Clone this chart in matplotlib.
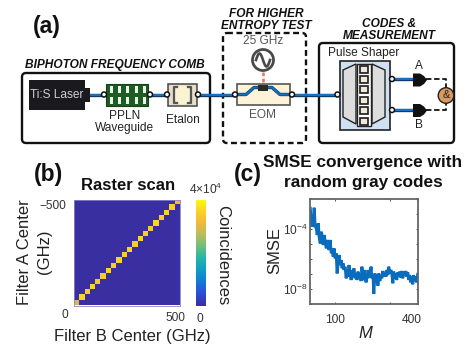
import numpy as np
import matplotlib
matplotlib.use("Agg")
import matplotlib.pyplot as plt
from matplotlib.colors import LinearSegmentedColormap
from matplotlib.patches import Rectangle, FancyBboxPatch, Circle, Ellipse, Polygon
from matplotlib.transforms import ScaledTranslation

plt.rcParams['font.family'] = ['Liberation Sans', 'DejaVu Sans']
plt.rcParams['mathtext.fontset'] = 'custom'
plt.rcParams['mathtext.rm'] = 'Liberation Sans'
plt.rcParams['mathtext.it'] = 'Liberation Sans:italic'

#---------------------- DATA ----------------------

# panel b, coincidences along the diagonal of the raster scan
diagonal_counts = [2.9e4, 3.6e4, 3.5e4, 3.6e4, 3.4e4, 3.5e4, 3.6e4, 3.5e4, 3.6e4, 3.5e4,
                   3.6e4, 3.5e4, 3.6e4, 3.5e4, 3.4e4, 3.6e4, 3.5e4, 3.6e4, 3.5e4, 3.1e4]
background_counts = 300
count_max = 4e4

# panel c, M and log10(SMSE)
m_values = [10, 14, 17, 21, 24, 28, 32, 35, 39, 42, 46, 50, 53, 57, 60, 64, 68, 71, 75, 78,
            82, 86, 89, 93, 96, 100, 104, 107, 111, 114, 118, 122, 125, 129, 132, 136, 140,
            143, 147, 150, 154, 158, 161, 165, 168, 172, 176, 179, 183, 186, 190, 194, 197,
            201, 204, 208, 212, 215, 219, 222, 226, 230, 233, 237, 240, 244, 248, 251, 255,
            258, 262, 266, 269, 273, 276, 280, 284, 287, 291, 294, 298, 302, 305, 309, 312,
            316, 320, 323, 327, 330, 334, 338, 341, 345, 348, 352, 356, 359, 363, 366, 370,
            374, 377, 381, 384, 388, 392, 395, 399]
smse_log10 = [-2.62, -3.51, -3.84, -3.62, -2.58, -3.84, -3.96, -4.40, -3.62, -4.51, -4.96,
              -4.18, -4.51, -5.07, -4.40, -4.84, -5.29, -4.73, -5.18, -5.40, -4.73, -5.62,
              -5.29, -5.84, -5.29, -5.96, -5.62, -6.96, -6.29, -5.73, -6.40, -6.07, -6.62,
              -6.29, -6.73, -6.51, -7.29, -6.73, -7.18, -6.40, -6.96, -7.40, -6.73, -7.18,
              -6.62, -7.29, -6.96, -7.40, -6.84, -7.29, -7.07, -7.47, -6.51, -7.29,
              -7.40, -6.73, -7.56, -6.96, -7.29, -6.73, -7.18, -6.51, -7.29, -7.07, -8.33,
              -6.96, -7.56, -7.07, -7.78, -6.96, -7.47, -7.07, -7.29, -6.80, -7.18, -6.89,
              -7.18, -6.73, -7.07, -6.51, -6.96, -6.73, -6.96, -7.62, -6.84, -7.29, -6.96,
              -7.40, -6.89, -7.18, -6.84, -7.24, -6.80, -7.29, -6.84, -7.11, -6.80, -7.18,
              -6.89, -7.40, -7.07, -7.56, -7.18, -7.69, -7.07, -7.47, -7.18, -7.56, -7.02]

parula = LinearSegmentedColormap.from_list(
    "parula", ["#3a2f9f", "#2c4bd8", "#1279d8", "#0f9cc8", "#22b5a8", "#6bbf7c",
               "#b8bd5c", "#f0b93a", "#fbd024", "#f9fb0e"])

BLUE = "#1670bf"
GRAY = "#555555"

fig = plt.figure(figsize=(4.74, 3.51), dpi=100)

# overlay in pixel coordinates for the schematic and the loose labels
ov = fig.add_axes([0, 0, 1, 1])
ov.set_xlim(0, 474)
ov.set_ylim(351, 0)
ov.axis("off")


def px_axes(x0, y0, x1, y1):
    return fig.add_axes([x0 / 474, 1 - y1 / 351, (x1 - x0) / 474, (y1 - y0) / 351])


def label(x, y, s, size=9, **kw):
    kw.setdefault("ha", "center")
    kw.setdefault("va", "center")
    return ov.text(x, y, s, fontsize=size, **kw)


def heading(x, y, s, size=8.6):
    label(x, y, s, size, fontweight="bold", fontstyle="italic", color="#111111")


def round_box(x0, y0, x1, y1, ls="-", lw=1.7):
    ov.add_patch(FancyBboxPatch((x0 + 4, y0 + 4), x1 - x0 - 8, y1 - y0 - 8,
                                boxstyle="round,pad=4,rounding_size=4", fc="none",
                                ec="#111111", lw=lw, ls=ls, zorder=2))


def beam(xs, ys, z=3):
    ov.plot(xs, ys, color="#0d3a66", lw=2.4, solid_capstyle="butt", zorder=z)
    ov.plot(xs, ys, color=BLUE, lw=1.5, solid_capstyle="butt", zorder=z)


def connector(x, y):
    ov.add_patch(Ellipse((x, y), 5, 5, fc="white", ec="#111111", lw=1.1, zorder=6))


#---------------------- PANEL A ----------------------

label(47, 27, "(a)", 16.5, fontweight="bold", color="#111111")
heading(114.5, 65, "BIPHOTON FREQUENCY COMB")
heading(266, 14, "FOR HIGHER")
heading(266, 26, "ENTROPY TEST")
heading(389, 24, "CODES &")
heading(389, 36, "MEASUREMENT")

round_box(22, 73, 210, 143)
round_box(223, 33, 306, 143, ls=(0, (2.5, 1.5)))
round_box(319, 43, 454, 143)

# main beam line
beam([88, 338], [94.5, 94.5], z=3)

# laser
ov.add_patch(Rectangle((29, 80), 56, 30, fc="#1a1a1e", ec="none", zorder=4))
ov.add_patch(Rectangle((85, 88), 5, 14, fc="#1a1a1e", ec="none", zorder=4))
label(57, 95, "Ti:S Laser", 8.6, color="#cfcfd4", zorder=5)

# PPLN waveguide
ov.add_patch(Rectangle((106, 84), 42, 22, fc="#1d5c22", ec="#12401a", lw=0.8, zorder=4))
for sx in [110, 118, 126.5, 135, 143]:
    ov.add_patch(Rectangle((sx, 86), 3, 6.5, fc="#f0f6e8", ec="none", zorder=5))
    ov.add_patch(Rectangle((sx, 97), 3, 7, fc="#f0f6e8", ec="none", zorder=5))
connector(104, 94.5)
connector(150, 94.5)
label(125, 116, "PPLN", 8.6, color="#222222")
label(125, 128, "Waveguide", 8.6, color="#222222")

# etalon
ov.add_patch(Rectangle((168, 84), 29, 22, fc="#e6dfcc", ec="#444444", lw=1.1, zorder=4))
ov.add_patch(Ellipse((182.5, 95), 17, 19, fc="#fbf2d2", ec="none", zorder=5))
ov.plot([177, 174, 174, 177], [87, 87, 103, 103], color="#555555", lw=1.6, zorder=6)
ov.plot([188, 191, 191, 188], [87, 87, 103, 103], color="#555555", lw=1.6, zorder=6)
connector(167, 94.5)
connector(198, 94.5)
label(183, 120, "Etalon", 8.6, color="#222222")

# 25 GHz source and EOM
label(263, 41, "25 GHz", 8.6, color=GRAY)
ov.add_patch(Circle((263, 60), 10.5, fc="white", ec="#4a4a4a", lw=2, zorder=4))
wave_x = np.linspace(256, 270, 60)
ov.plot(wave_x, 60 - 6.5 * np.sin((wave_x - 256) / 14 * 2 * np.pi), color="#4a4a4a", lw=1.9, zorder=5)
ov.plot([263, 263], [72, 86], color="#e0765a", lw=1.8, ls=(0, (1.5, 1)), zorder=4)
ov.add_patch(Rectangle((237, 84), 53, 21, fc="#fdf3d8", ec=GRAY, lw=1.2, zorder=4))
beam([232, 246, 254, 272, 280, 295], [94.5, 94.5, 87.5, 87.5, 94.5, 94.5], z=5)
ov.add_patch(Rectangle((258, 85), 10, 5.5, fc="#2a2a2a", ec="none", zorder=6))
connector(235, 94.5)
connector(292, 94.5)
label(263, 115, "EOM", 8.6, color=GRAY)

# pulse shaper
label(364, 53, "Pulse Shaper", 8.6, color="#222222")
ov.add_patch(Rectangle((340, 61), 50, 69, fc="#cfe0f2", ec="#222222", lw=1.2, zorder=4))
ov.add_patch(Polygon([(343, 70), (356, 64), (356, 124), (343, 117)], fc="#dddddd", ec="#222222", lw=1, zorder=5))
ov.add_patch(Polygon([(372, 64), (385, 70), (385, 117), (372, 124)], fc="#dddddd", ec="#222222", lw=1, zorder=5))
ov.add_patch(Rectangle((357, 64), 14, 62, fc="white", ec="#222222", lw=1, zorder=5))
for cy in [69.3, 79.5, 89.7, 100, 110.5, 121]:
    ov.add_patch(Rectangle((360, cy - 3.5), 8, 7, fc="#efe9dc", ec="#1a1a1a", lw=1.2, zorder=6))
connector(337.5, 94.5)

# outputs and coincidence detection
beam([390, 414], [79, 79])
beam([390, 414], [110, 110])
connector(392, 79)
connector(392, 110)
for gy in [80, 110.5]:
    ov.add_patch(Polygon([(413, gy - 6.5), (420, gy - 6.5), (424, gy - 4), (427, gy), (424, gy + 4), (420, gy + 6.5), (413, gy + 6.5)],
                         fc="#111111", ec="none", zorder=6))
label(419, 66, "A", 8.6, color="#222222")
label(419, 125, "B", 8.6, color="#222222")
ov.plot([426, 446, 446], [79, 79, 88], color="#111111", lw=1.3, ls=(0, (3, 1.5)), zorder=4)
ov.plot([426, 446, 446], [110, 110, 103], color="#111111", lw=1.3, ls=(0, (3, 1.5)), zorder=4)
ov.add_patch(Circle((446, 95.5), 7.8, fc="#d99a62", ec="#222222", lw=1, zorder=6))
label(446, 95.5, "&", 8, color="#222222", zorder=7)

#---------------------- PANEL B ----------------------

label(49, 174, "(b)", 16.5, fontweight="bold", color="#111111")
label(128, 186, "Raster scan", 12, fontweight="bold", color="#111111")

raster = np.full((len(diagonal_counts), len(diagonal_counts)), float(background_counts))
for i, c in enumerate(diagonal_counts):
    raster[i, i] = c

axb = px_axes(74, 199.5, 180, 305.5)
im = axb.imshow(raster, origin="lower", cmap=parula, vmin=0, vmax=count_max,
                aspect="auto", interpolation="nearest")
axb.set_xticks([])
axb.set_yticks([])
for s in axb.spines.values():
    s.set_color("#8a86c8")
    s.set_linewidth(0.6)

label(25, 252, "Filter A Center", 12, rotation=90, color="#222222")
label(45, 252, "(GHz)", 12, rotation=90, color="#222222")
label(53, 206, "\u2212500", 8.6, color="#333333")
label(65, 315, "0", 8.6, color="#333333")
label(175, 318, "500", 8.6, color="#333333")
label(132, 336, "Filter B Center (GHz)", 12, color="#222222")

cax = px_axes(196, 199.5, 205.7, 305.5)
cb = fig.colorbar(im, cax=cax)
cb.set_ticks([])
cb.outline.set_visible(False)
label(206, 189, r"4$\times$10$^{4}$", 8.6, color="#333333")
label(200, 319, "0", 8.6, color="#333333")
label(223, 255, "Coincidences", 12, rotation=270, color="#222222")

#---------------------- PANEL C ----------------------

label(248, 174, "(c)", 16.5, fontweight="bold", color="#111111")
label(363, 163, "SMSE convergence with", 12.4, fontweight="bold", color="#111111")
label(363, 183, "random gray codes", 12.4, fontweight="bold", color="#111111")

axc = px_axes(310, 199, 418, 304)
axc.plot(m_values, 10.0 ** np.array(smse_log10), color="#0a6cbd", lw=2.1, solid_joinstyle="miter")
axc.set_yscale("log")
axc.set_xlim(9, 400)
axc.set_ylim(1e-9, 1e-2)
axc.set_xticks([100, 300, 400])
axc.set_xticklabels(["100", "", "400"], fontsize=8.6, color="#333333")
axc.set_yticks([10.0 ** e for e in range(-9, -1)])
axc.set_yticklabels([r"10$^{-4}$" if e == -4 else r"10$^{-8}$" if e == -8 else "" for e in range(-9, -1)],
                    fontsize=8.6, color="#333333")
axc.minorticks_off()
axc.tick_params(direction="in", length=1.5, width=0.7, color="#555555", top=True, right=True, pad=1.5)
axc.tick_params(axis="x", pad=7)
shift = ScaledTranslation(-6 / 100, 0, fig.dpi_scale_trans)
lab400 = axc.get_xticklabels()[-1]
lab400.set_transform(lab400.get_transform() + shift)
for s in axc.spines.values():
    s.set_color("#666666")
    s.set_linewidth(1.3)

label(275, 250, "SMSE", 12, rotation=90, color="#222222")
label(365, 334, "M", 12, fontstyle="italic", color="#222222")

fig.savefig("out.png", dpi=100)
